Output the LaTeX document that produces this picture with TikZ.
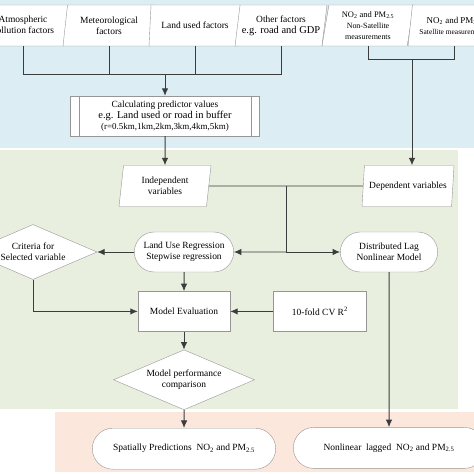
\documentclass[tikz,border=0pt]{standalone}
\usepackage{fontspec}
\setmainfont{Liberation Serif}
\usetikzlibrary{shapes.geometric,shapes.misc,positioning,arrows.meta}

\definecolor{bandBlue}{RGB}{220,237,243}
\definecolor{bandGreen}{RGB}{233,239,223}
\definecolor{bandPeach}{RGB}{251,231,219}
\definecolor{edgeGray}{RGB}{150,150,150}
\definecolor{lineGray}{RGB}{60,60,60}

\begin{document}
\begin{tikzpicture}[x=1bp,y=-1bp,align=center,font=\fontsize{9.5}{11}\selectfont,
	>={Latex[length=7.5bp,width=6.5bp]},
	data/.style={trapezium,trapezium left angle=77,trapezium right angle=103,trapezium stretches body,fill=white,draw=edgeGray,minimum width=92bp,minimum height=41bp,inner sep=1bp},
	proc/.style={rectangle,fill=white,draw=edgeGray,minimum height=40bp,inner sep=1bp},
	term/.style={rounded rectangle,fill=white,draw=edgeGray,minimum height=40bp},
	dec/.style={diamond,fill=white,draw=edgeGray,inner sep=0pt},
	conn/.style={lineGray,line width=1pt}]

	\fill[bandBlue] (0,0) rectangle (474,148);
	\fill[bandGreen] (0,150) rectangle (458,409);
	\fill[bandPeach] (55,412) rectangle (474,472);
	\useasboundingbox (0,0) rectangle (474,474);

	\node[data] (atmos) at (23,25.5) {Atmospheric\\pollution factors};
	\node[data] (meteo) at (109,25.5) {Meteorological\\factors};
	\node[data] (landUsed) at (195,25.5) {Land used factors};
	\node[data] (other) at (281,25.5) {Other factors\\{\fontsize{10.5}{12}\selectfont e.g. road and GDP}};
	\node[data] (nonSat) at (368,25.5) {{\fontsize{8.5}{11}\selectfont NO\textsubscript{2} and PM\textsubscript{2.5}}\\{\fontsize{8}{11}\selectfont Non-Satellite}\\{\fontsize{8}{11}\selectfont measurements}};
	\node[data] (sat) at (454,25.5) {{\fontsize{9}{12}\selectfont NO\textsubscript{2} and PM\textsubscript{2.5}}\\{\fontsize{7.5}{12}\selectfont Satellite measurements}};

	\coordinate (busL) at (165,75);
		\draw[conn] (atmos.south) |- (other.south |- busL) -- (other.south);
		\draw[conn] (meteo.south) -- (meteo.south |- busL);
		\draw[conn] (landUsed.south) -- (landUsed.south |- busL);

	\node[proc,minimum width=189bp] (calc) at (165,116) {Calculating predictor values\\{\fontsize{10.5}{12}\selectfont e.g. Land used or road in buffer}\\{\fontsize{9}{12}\selectfont (r=0.5km,1km,2km,3km,4km,5km)}};
		\draw[edgeGray] ([xshift=9bp]calc.north west) -- ([xshift=9bp]calc.south west);
		\draw[edgeGray] ([xshift=-9bp]calc.north east) -- ([xshift=-9bp]calc.south east);
		\path[->,conn] (busL) edge (calc);

	\coordinate (busR) at (412,60);
		\draw[conn] (nonSat.south) |- (sat.south |- busR) -- (sat.south);

	\node[data] (indep) at (165,186) {Independent\\variables};
		\path[->,conn] (calc) edge (indep);
	\node[data] (dep) at (408,186) {Dependent variables};
		\draw[->,conn] (busR) -- (busR |- dep.north);
		\draw[conn] (indep.east) -- (dep.west);

	\coordinate (split) at (286,186);
	\coordinate (fork) at (286,252);
		\draw[conn] (split) -- (fork);

	\node[term,minimum width=106bp] (lur) at (184,252) {Land Use Regression\\Stepwise regression};
	\node[term,minimum width=104bp] (dlnm) at (389,252) {Distributed Lag\\Nonlinear Model};
		\path[->,conn] (fork) edge (lur);
		\path[->,conn] (fork) edge (dlnm);

	\node[dec,minimum width=128bp,minimum height=55bp,aspect=2.3] (criteria) at (33,252) {Criteria for\\Selected variable};
		\path[->,conn] (lur) edge (criteria);

	\node[proc,minimum width=92bp,below=19bp of lur] (evaluation) {Model Evaluation};
		\path[->,conn] (lur) edge (evaluation);
		\draw[->,conn] (criteria.south) |- (evaluation.west);

	\node[proc,minimum width=93bp,right=43bp of evaluation] (cv) {10-fold CV R\textsuperscript{2}};
		\path[->,conn] (cv) edge (evaluation);

	\node[dec,minimum width=141bp,minimum height=60bp,aspect=2.35,below=18bp of evaluation] (perf) {Model performance\\comparison};
		\path[->,conn] (evaluation) edge (perf);

	\node[term,minimum width=190bp,minimum height=41bp,below=18bp of perf] (spatial) {Spatially Predictions\ \ NO\textsubscript{2} and PM\textsubscript{2.5}};
		\path[->,conn] (perf) edge (spatial);

	\node[term,minimum width=198bp,minimum height=41bp,below=155bp of dlnm] (lagged) {Nonlinear\ \ lagged\ \ NO\textsubscript{2} and PM\textsubscript{2.5}};
		\path[->,conn] (dlnm) edge (lagged);
\end{tikzpicture}
\end{document}
